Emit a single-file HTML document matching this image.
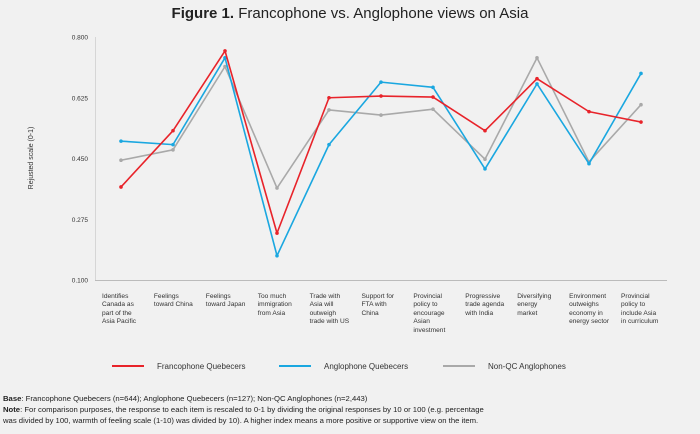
<!DOCTYPE html>
<html><head><meta charset="utf-8"><style>
body{margin:0;background:#f1f1f1;}
#wrap{position:relative;width:700px;height:434px;background:#f1f1f1;font-family:"Liberation Sans",sans-serif;color:#222;overflow:hidden}
.cat{position:absolute;top:293px;width:40px;font-size:6.6px;line-height:8.4px;color:#333}
.foot{position:absolute;left:3px;font-size:7.7px;color:#222;white-space:nowrap}
</style></head><body>
<div id="wrap">
<div style="position:absolute;left:0;width:700px;text-align:center;font-size:15px;line-height:17px;top:5px;color:#222"><b>Figure 1.</b> Francophone vs. Anglophone views on Asia</div>
<svg id="plot" width="700" height="434" style="position:absolute;left:0;top:0"></svg>
<div id="cats"></div>
<div class="foot" style="top:394px"><b>Base</b>: Francophone Quebecers (n=644); Anglophone Quebecers (n=127); Non-QC Anglophones (n=2,443)</div>
<div class="foot" style="top:405px"><b>Note</b>: For comparison purposes, the response to each item is rescaled to 0-1 by dividing the original responses by 10 or 100 (e.g. percentage</div>
<div class="foot" style="top:416px">was divided by 100, warmth of feeling scale (1-10) was divided by 10). A higher index means a more positive or supportive view on the item.</div>
</div>
<script>
const categories=["Identifies Canada as part of the Asia Pacific","Feelings toward China","Feelings toward Japan","Too much immigration from Asia","Trade with Asia will outweigh trade with US","Support for FTA with China","Provincial policy to encourage Asian investment","Progressive trade agenda with India","Diversifying energy market","Environment outweighs economy in energy sector","Provincial policy to include Asia in curriculum"];
const francophone=[0.368,0.530,0.760,0.235,0.625,0.630,0.627,0.530,0.680,0.585,0.555];
const anglophoneQC=[0.500,0.490,0.740,0.170,0.490,0.670,0.655,0.420,0.665,0.435,0.695];
const nonQC=[0.445,0.475,0.715,0.365,0.590,0.575,0.592,0.448,0.740,0.440,0.605];
const yTicks=[0.100,0.275,0.450,0.625,0.800];
const seriesNames=["Francophone Quebecers","Anglophone Quebecers","Non-QC Anglophones"];
const NS="http://www.w3.org/2000/svg";
const svg=document.getElementById('plot');
const x=i=>121+i*52;
const y=v=>280-(v-0.1)/0.7*243;
function mk(t,a){const e=document.createElementNS(NS,t);for(const k in a)e.setAttribute(k,a[k]);svg.appendChild(e);return e;}
const ax=mk('line',{x1:95,x2:667,y1:280.5,y2:280.5,stroke:'#bbb','stroke-width':1});


const ay=mk('line',{x1:95.5,x2:95.5,y1:37,y2:280,stroke:'#d6d6d6','stroke-width':1});


yTicks.forEach(v=>{const t=mk('text',{x:88,y:y(v)+2.5,'text-anchor':'end','font-size':'6.5','fill':'#333','font-family':'Liberation Sans, sans-serif'});t.textContent=v.toFixed(3);

});
const yt=mk('text',{x:0,y:0,transform:'translate(33,158) rotate(-90)','text-anchor':'middle','font-size':'7','fill':'#333','font-family':'Liberation Sans, sans-serif'});yt.textContent='Rejusted scale (0-1)';


const cols=['#e8232a','#1aa7e0','#a9a9a9'];
[nonQC,anglophoneQC,francophone].forEach((s,k)=>{
 const c=cols[2-k];
 const p=mk('polyline',{points:s.map((v,i)=>x(i)+','+y(v)).join(' '),fill:'none',stroke:c,'stroke-width':1.6,'stroke-linejoin':'round'});
 
 
 s.forEach((v,i)=>{const d=mk('circle',{cx:x(i),cy:y(v),r:1.8,fill:c});
 
 });
});
const cd=document.getElementById('cats');
categories.forEach((c,i)=>{const d=document.createElement('div');d.className='cat';d.style.left=(102+i*51.9)+'px';d.textContent=c;


cd.appendChild(d);});
const lx=[112,279,443];
seriesNames.forEach((n,i)=>{
 const l=mk('line',{x1:lx[i],x2:lx[i]+32,y1:366,y2:366,stroke:cols[i],'stroke-width':2});
 
 
 const t=mk('text',{x:lx[i]+45,y:369,'font-size':'8','fill':'#333','font-family':'Liberation Sans, sans-serif'});t.textContent=n;
 
 
});
</script>
</body></html>
